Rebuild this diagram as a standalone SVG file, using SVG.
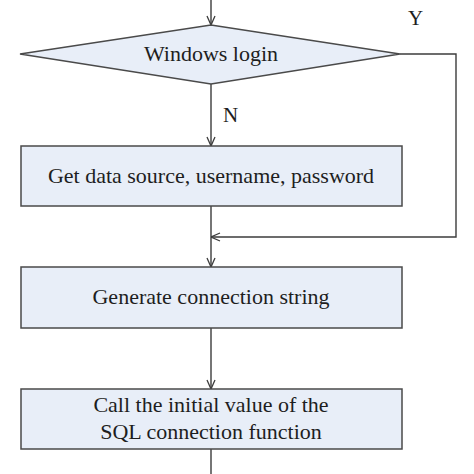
<svg xmlns="http://www.w3.org/2000/svg" width="474" height="474" viewBox="0 0 474 474">
<defs>
<marker id="arr" viewBox="0 0 10 10" refX="10" refY="5" markerWidth="10" markerHeight="10" markerUnits="userSpaceOnUse" orient="auto">
<path d="M1,1 L10,5 L1,9" fill="none" stroke="#3c3c3c" stroke-width="1.3"/>
</marker>
<style>
.box{fill:#e8eef8;stroke:#4a4a4a;stroke-width:1.5}
.ln{fill:none;stroke:#3c3c3c;stroke-width:1.4}
.t{font-family:"Liberation Serif",serif;font-size:22px;fill:#1e1e1e;text-anchor:middle}
.lb{font-family:"Liberation Serif",serif;font-size:21px;fill:#1e1e1e}
</style>
</defs>
<rect width="474" height="474" fill="#ffffff"/>
<g id="connectors">
<path class="ln" d="M211,0 V25" marker-end="url(#arr)"/>
<path class="ln" d="M211,84 V146" marker-end="url(#arr)"/>
<path class="ln" d="M400,54 H456 V237 H211" marker-end="url(#arr)"/>
<path class="ln" d="M211,206 V267" marker-end="url(#arr)"/>
<path class="ln" d="M211,328 V389" marker-end="url(#arr)"/>
<path class="ln" d="M211,449 V474"/>
<text class="lb" x="408" y="25">Y</text>
<text class="lb" x="223" y="122">N</text>
</g>
<g id="windows-login">
<polygon class="box" points="20,54 211,25 400,54 211,84"/>
<text class="t" x="211" y="61">Windows login</text>
</g>
<g id="get-data">
<rect class="box" x="21" y="146" width="381" height="60"/>
<text class="t" x="211" y="183">Get data source, username, password</text>
</g>
<g id="generate">
<rect class="box" x="21" y="267" width="381" height="61"/>
<text class="t" x="211" y="304">Generate connection string</text>
</g>
<g id="call-sql">
<rect class="box" x="21" y="389" width="381" height="60"/>
<text class="t" x="211" y="412">Call the initial value of the</text>
<text class="t" x="211" y="439">SQL connection function</text>
</g>
</svg>
